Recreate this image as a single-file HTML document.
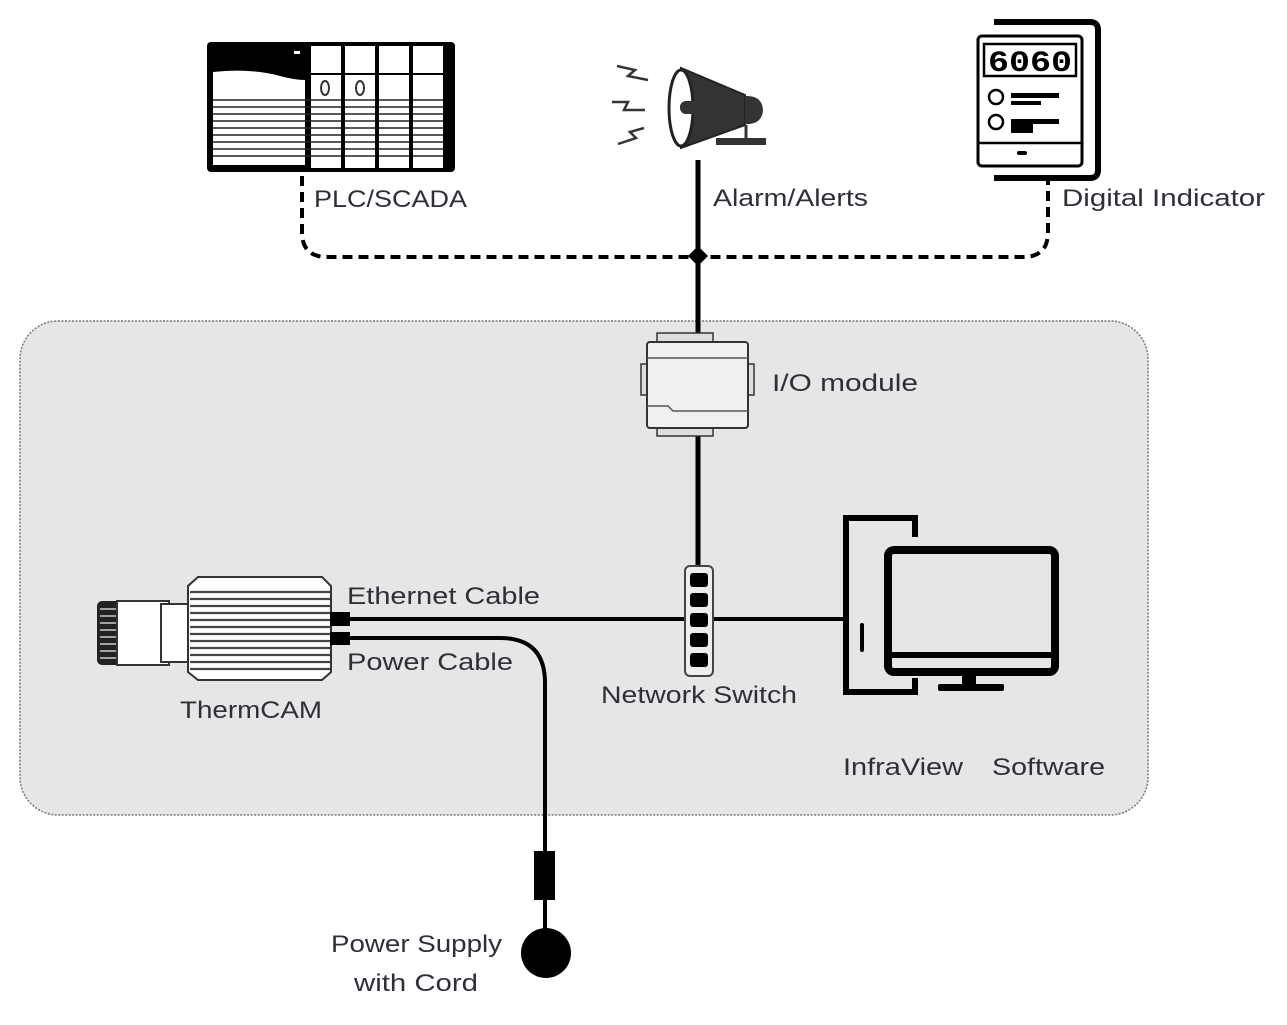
<!DOCTYPE html>
<html><head><meta charset="utf-8"><style>
html,body{margin:0;padding:0;background:#fff;}
svg{display:block;}
text{font-family:"Liberation Sans",sans-serif;font-size:24px;fill:#2f2f3a;}
</style></head><body>
<svg width="1287" height="1025" viewBox="0 0 1287 1025" xmlns="http://www.w3.org/2000/svg">
<rect x="20" y="321" width="1128" height="494" rx="38" fill="#e6e6e6" stroke="#777" stroke-width="1.5" stroke-dasharray="2 1.5"/>

<path d="M302 176 V232 Q302 257 327 257 H1023 Q1048 257 1048 232 V178" fill="none" stroke="#000" stroke-width="4" stroke-dasharray="10 6"/>
<line x1="698" y1="160" x2="698" y2="335" stroke="#000" stroke-width="5"/>
<path d="M698 246 L708 256 L698 266 L688 256 Z" fill="#000"/>

<rect x="207" y="42" width="248" height="130" rx="4" fill="#000"/>
<path d="M213 72 Q250 68 280 76 Q295 80 305 80 L305 165 L213 165 Z" fill="#fff"/>
<g fill="#fff">
<rect x="311" y="46" width="30" height="122"/><rect x="345" y="46" width="30" height="122"/>
<rect x="379" y="46" width="30" height="122"/><rect x="413" y="46" width="30" height="122"/>
</g>
<line x1="311" y1="74" x2="443" y2="74" stroke="#000" stroke-width="2"/>
<g stroke="#222" stroke-width="1.6">
<line x1="213" y1="100" x2="443" y2="100"/><line x1="213" y1="107" x2="443" y2="107"/>
<line x1="213" y1="114" x2="443" y2="114"/><line x1="213" y1="121" x2="443" y2="121"/>
<line x1="213" y1="128" x2="443" y2="128"/><line x1="213" y1="135" x2="443" y2="135"/>
<line x1="213" y1="142" x2="443" y2="142"/><line x1="213" y1="149" x2="443" y2="149"/>
<line x1="213" y1="156" x2="443" y2="156"/>
</g>
<g stroke="#000" stroke-width="4">
<line x1="343" y1="44" x2="343" y2="170"/><line x1="377" y1="44" x2="377" y2="170"/><line x1="411" y1="44" x2="411" y2="170"/>
</g>
<ellipse cx="325" cy="88" rx="4" ry="7" fill="none" stroke="#333" stroke-width="2"/>
<ellipse cx="360" cy="88" rx="4" ry="7" fill="none" stroke="#333" stroke-width="2"/>
<rect x="294" y="51" width="6" height="3" fill="#fff"/>
<text x="314" y="207" textLength="153" lengthAdjust="spacingAndGlyphs">PLC/SCADA</text>

<g stroke="#333" stroke-width="2.5" fill="none">
<path d="M617 66 L635 70 L628 76 L648 80"/>
<path d="M612 102 L628 102 L624 110 L645 110"/>
<path d="M618 144 L636 138 L630 132 L644 128"/>
</g>
<path d="M681 68 L745 95 L745 125 L681 148 Z" fill="#333" stroke="#222" stroke-width="2"/>
<ellipse cx="681" cy="108" rx="12" ry="38" fill="#fff" stroke="#222" stroke-width="3"/>
<rect x="680" y="101" width="22" height="13" rx="6" fill="#333"/>
<path d="M745 96 Q762 95 763 110 Q762 125 745 124 Z" fill="#333"/>
<rect x="716" y="138" width="50" height="7" fill="#333"/>
<line x1="746" y1="125" x2="746" y2="140" stroke="#333" stroke-width="3"/>
<text x="713" y="206" textLength="155" lengthAdjust="spacingAndGlyphs">Alarm/Alerts</text>

<path d="M994 22 H1090 Q1098 22 1098 30 V170 Q1098 178 1090 178 H994" fill="none" stroke="#000" stroke-width="6"/>
<rect x="978" y="36" width="104" height="130" rx="4" fill="#fff" stroke="#000" stroke-width="3"/>
<rect x="984" y="44" width="92" height="32" fill="#fff" stroke="#000" stroke-width="2.5"/>
<text x="988" y="71" textLength="84" lengthAdjust="spacingAndGlyphs" style="font-size:30px;font-family:'Liberation Mono',monospace;font-weight:bold;fill:#000">6060</text>
<circle cx="996" cy="97" r="7" fill="#fff" stroke="#000" stroke-width="2.5"/>
<circle cx="996" cy="122" r="7" fill="#fff" stroke="#000" stroke-width="2.5"/>
<rect x="1011" y="93" width="48" height="5" fill="#000"/><rect x="1011" y="101" width="30" height="4" fill="#000"/>
<rect x="1011" y="119" width="48" height="5" fill="#000"/><rect x="1011" y="119" width="22" height="14" fill="#000"/>
<line x1="978" y1="143" x2="1082" y2="143" stroke="#000" stroke-width="2.5"/>
<rect x="1017" y="151" width="10" height="4" rx="2" fill="#000"/>
<text x="1062" y="206" textLength="203" lengthAdjust="spacingAndGlyphs">Digital Indicator</text>

<line x1="698" y1="435" x2="698" y2="568" stroke="#000" stroke-width="5"/>
<rect x="657" y="333" width="56" height="10" fill="#ddd" stroke="#333" stroke-width="1.5"/>
<rect x="657" y="427" width="56" height="9" fill="#ddd" stroke="#333" stroke-width="1.5"/>
<rect x="641" y="364" width="7" height="31" fill="#ddd" stroke="#333" stroke-width="1.5"/>
<rect x="747" y="364" width="7" height="31" fill="#ddd" stroke="#333" stroke-width="1.5"/>
<rect x="647" y="342" width="101" height="86" rx="3" fill="#f0f0f0" stroke="#333" stroke-width="2"/>
<line x1="647" y1="358" x2="748" y2="358" stroke="#555" stroke-width="1.5"/>
<path d="M647 406 H668 L673 411 H748" fill="none" stroke="#555" stroke-width="1.5"/>
<text x="772" y="391" textLength="146" lengthAdjust="spacingAndGlyphs">I/O module</text>

<line x1="345" y1="619" x2="843" y2="619" stroke="#000" stroke-width="4"/>
<path d="M345 638 H500 Q545 638 545 683 V855" fill="none" stroke="#000" stroke-width="4"/>
<rect x="534" y="851" width="21" height="49" fill="#000"/>
<line x1="545" y1="900" x2="545" y2="930" stroke="#000" stroke-width="4"/>
<circle cx="546" cy="953" r="25" fill="#000"/>

<rect x="685" y="566" width="28" height="110" rx="5" fill="#eee" stroke="#444" stroke-width="2"/>
<g fill="#000">
<rect x="690" y="573" width="18" height="14" rx="3"/><rect x="690" y="593" width="18" height="14" rx="3"/>
<rect x="690" y="613" width="18" height="14" rx="3"/><rect x="690" y="633" width="18" height="14" rx="3"/>
<rect x="690" y="653" width="18" height="14" rx="3"/>
</g>
<text x="601" y="703" textLength="196" lengthAdjust="spacingAndGlyphs">Network Switch</text>

<rect x="97" y="601" width="30" height="64" rx="5" fill="#222"/>
<g stroke="#ccc" stroke-width="1.5">
<line x1="100" y1="609" x2="125" y2="609"/><line x1="100" y1="616" x2="125" y2="616"/><line x1="100" y1="623" x2="125" y2="623"/>
<line x1="100" y1="630" x2="125" y2="630"/><line x1="100" y1="637" x2="125" y2="637"/><line x1="100" y1="644" x2="125" y2="644"/>
<line x1="100" y1="651" x2="125" y2="651"/><line x1="100" y1="658" x2="125" y2="658"/>
</g>
<rect x="117" y="601" width="52" height="64" fill="#fff" stroke="#333" stroke-width="2"/>
<rect x="161" y="604" width="27" height="58" fill="#fff" stroke="#333" stroke-width="2"/>
<path d="M198 577 H322 L331 586 V672 L322 680 H198 L188 672 V586 Z" fill="#fff" stroke="#333" stroke-width="2"/>
<g stroke="#444" stroke-width="2.2">
<line x1="190" y1="592" x2="330" y2="592"/><line x1="190" y1="599" x2="330" y2="599"/><line x1="190" y1="606" x2="330" y2="606"/>
<line x1="190" y1="613" x2="330" y2="613"/><line x1="190" y1="620" x2="330" y2="620"/><line x1="190" y1="627" x2="330" y2="627"/>
<line x1="190" y1="634" x2="330" y2="634"/><line x1="190" y1="641" x2="330" y2="641"/><line x1="190" y1="648" x2="330" y2="648"/>
<line x1="190" y1="655" x2="330" y2="655"/><line x1="190" y1="662" x2="330" y2="662"/><line x1="190" y1="669" x2="330" y2="669"/>
</g>
<rect x="330" y="612" width="20" height="14" fill="#000"/>
<rect x="330" y="632" width="20" height="13" fill="#000"/>
<text x="347" y="604" textLength="193" lengthAdjust="spacingAndGlyphs">Ethernet Cable</text>
<text x="347" y="670" textLength="166" lengthAdjust="spacingAndGlyphs">Power Cable</text>
<text x="180" y="718" textLength="142" lengthAdjust="spacingAndGlyphs">ThermCAM</text>

<path d="M915 537 V518 H846 V692 H915 V678" fill="none" stroke="#000" stroke-width="6"/>
<line x1="862" y1="625" x2="862" y2="650" stroke="#000" stroke-width="4" stroke-linecap="round"/>
<rect x="888" y="550" width="167" height="122" rx="6" fill="none" stroke="#000" stroke-width="8"/>
<line x1="890" y1="655" x2="1053" y2="655" stroke="#000" stroke-width="6"/>
<rect x="962" y="672" width="14" height="14" fill="#000"/>
<rect x="938" y="684" width="66" height="7" rx="2" fill="#000"/>
<text x="843" y="775" textLength="120" lengthAdjust="spacingAndGlyphs">InfraView</text>
<text x="992" y="775" textLength="113" lengthAdjust="spacingAndGlyphs">Software</text>

<text x="331" y="952" textLength="171" lengthAdjust="spacingAndGlyphs">Power Supply</text>
<text x="354" y="991" textLength="124" lengthAdjust="spacingAndGlyphs">with Cord</text>
</svg>
</body></html>
